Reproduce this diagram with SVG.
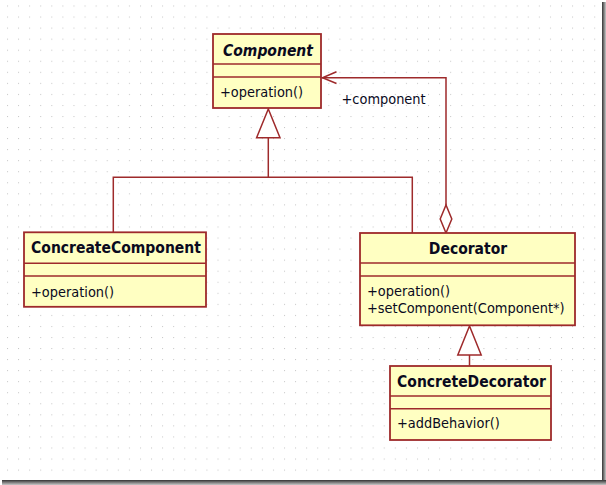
<svg xmlns="http://www.w3.org/2000/svg" width="606" height="485" viewBox="0 0 606 485">
<style>
  .box { fill: #FFFFC2; stroke: #9E2A2B; stroke-width: 1.8; }
  .div { stroke: #9E2A2B; stroke-width: 1.6; fill: none; }
  .ln { stroke: #9E2A2B; stroke-width: 1.5; fill: none; }
  .tri { fill: #FFFFFF; stroke: #9E2A2B; stroke-width: 1.5; }
  .dia { fill: #FFFFFF; stroke: #9E2A2B; stroke-width: 1.5; }
  .name { font-family: "DejaVu Sans Condensed", "Noto Sans", sans-serif; font-size: 15.5px; font-weight: bold; fill: #0a0a1e; text-anchor: middle; }
  .abs { font-style: italic; }
  .op { font-family: "DejaVu Sans Condensed", "Noto Sans", sans-serif; font-size: 14.4px; fill: #0a0a1e; }
</style>
<defs>
  <pattern id="grid" x="7" y="5.5" width="11.08" height="11.05" patternUnits="userSpaceOnUse">
    <rect x="0" y="0" width="1" height="1" fill="#c4c4c4"/>
  </pattern>
  <linearGradient id="shR" x1="0" y1="0" x2="1" y2="0">
    <stop offset="0" stop-color="#333333"/>
    <stop offset="1" stop-color="#c8c8c8"/>
  </linearGradient>
  <linearGradient id="shB" x1="0" y1="0" x2="0" y2="1">
    <stop offset="0" stop-color="#333333"/>
    <stop offset="1" stop-color="#c8c8c8"/>
  </linearGradient>
</defs>
<rect x="0" y="0" width="606" height="485" fill="#FFFFFF"/>
<rect x="0" y="0" width="602" height="480" fill="url(#grid)"/>
<rect x="602" y="2" width="4" height="483" fill="url(#shR)"/>
<rect x="2" y="480" width="604" height="5" fill="url(#shB)"/>

<g id="connectors">
  <!-- generalization to Component -->
  <polyline class="ln" points="268.3,138 268.3,177.3"/>
  <polyline class="ln" points="113.3,232 113.3,177.3 412.3,177.3 412.3,233"/>
  <polygon class="tri" points="268.3,109 256.6,137.8 280,137.8"/>
  <!-- aggregation Decorator -> Component -->
  <polyline class="ln" points="446,205 446,77.7 322,77.7"/>
  <polyline class="ln" points="336.5,71.7 322.5,77.7 336.5,83.5"/>
  <polygon class="dia" points="446,233 451.8,219 446,205 440.2,219"/>
  <text class="op" x="341.5" y="103.5">+component</text>
  <!-- generalization ConcreteDecorator -> Decorator -->
  <polyline class="ln" points="469.5,355 469.5,366"/>
  <polygon class="tri" points="469.5,326 457.8,355 481.2,355"/>
</g>

<g id="Component">
  <rect class="box" x="213" y="34" width="108" height="74"/>
  <line class="div" x1="213" y1="64" x2="321" y2="64"/>
  <line class="div" x1="213" y1="77" x2="321" y2="77"/>
  <text class="name abs" x="268" y="55.5">Component</text>
  <text class="op" x="220" y="97">+operation()</text>
</g>

<g id="ConcreateComponent">
  <rect class="box" x="24" y="232.3" width="182" height="74.5"/>
  <line class="div" x1="24" y1="263.3" x2="206" y2="263.3"/>
  <line class="div" x1="24" y1="276" x2="206" y2="276"/>
  <text class="name" x="116" y="253.3">ConcreateComponent</text>
  <text class="op" x="31" y="296.5">+operation()</text>
</g>

<g id="Decorator">
  <rect class="box" x="360" y="233" width="215" height="92.3"/>
  <line class="div" x1="360" y1="263" x2="575" y2="263"/>
  <line class="div" x1="360" y1="276" x2="575" y2="276"/>
  <text class="name" x="468" y="253.5">Decorator</text>
  <text class="op"><tspan x="367" y="295.8">+operation()</tspan><tspan x="367" y="313">+setComponent(Component*)</tspan></text>
</g>

<g id="ConcreteDecorator">
  <rect class="box" x="390" y="366" width="161" height="74"/>
  <line class="div" x1="390" y1="396" x2="551" y2="396"/>
  <line class="div" x1="390" y1="408.7" x2="551" y2="408.7"/>
  <text class="name" x="471.5" y="386.7">ConcreteDecorator</text>
  <text class="op" x="397" y="428">+addBehavior()</text>
</g>
</svg>
